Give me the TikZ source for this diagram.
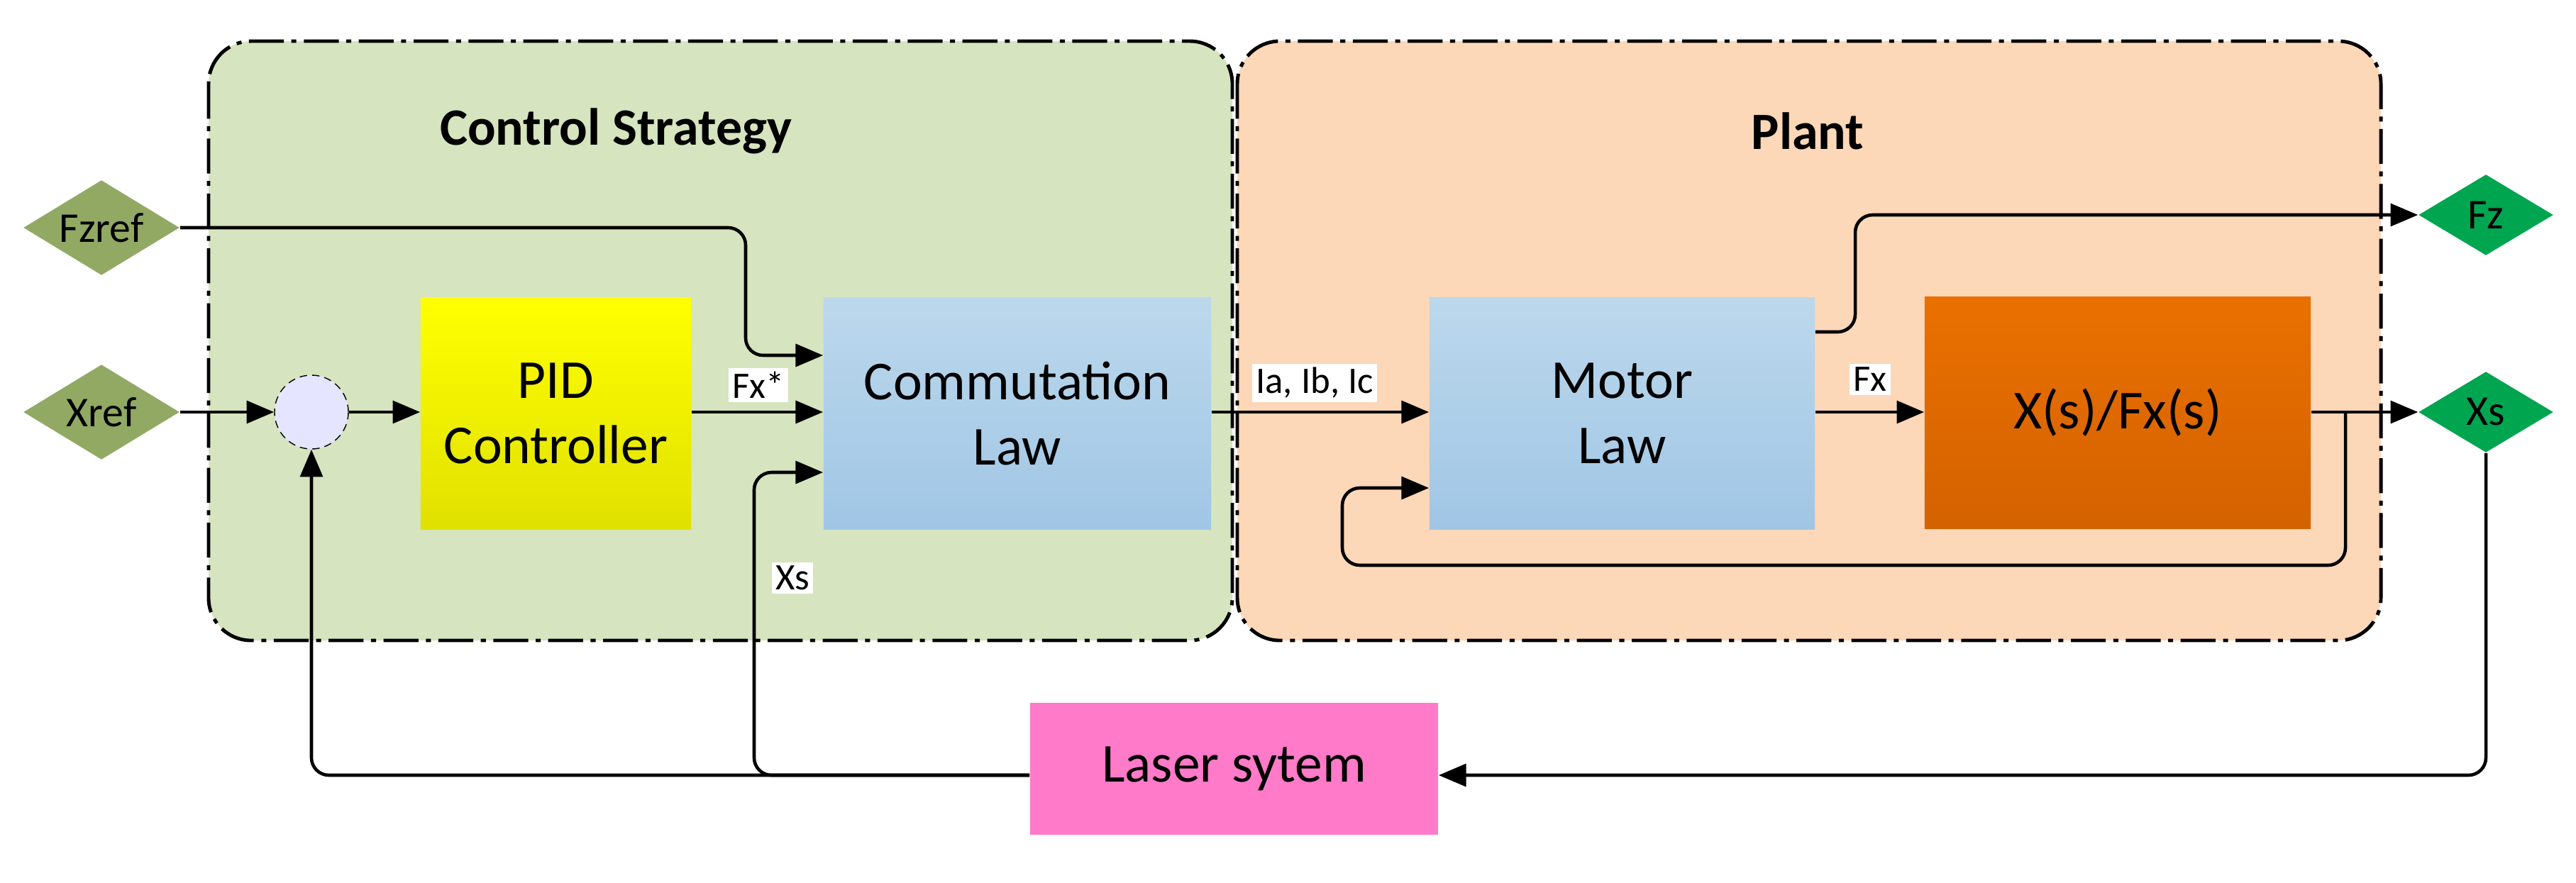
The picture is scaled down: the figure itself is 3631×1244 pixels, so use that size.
\documentclass[tikz,border=0pt]{standalone}
\usepackage{fontspec}
\setmainfont{Carlito}
\usetikzlibrary{arrows.meta,shapes.geometric}
\definecolor{grn}{HTML}{D6E4BF}
\definecolor{org}{HTML}{FCD7B8}
\definecolor{olive}{HTML}{92A964}
\definecolor{dgreen}{HTML}{00A550}
\definecolor{pink}{HTML}{FF7AC8}
\definecolor{lb1}{HTML}{BCD8EC}
\definecolor{lb2}{HTML}{A0C6E5}
\definecolor{or1}{HTML}{EA7000}
\definecolor{or2}{HTML}{D46200}
\begin{document}
\begin{tikzpicture}[x=0.01cm,y=-0.01cm,
  region/.style={draw=black,line width=1.4pt,dash pattern=on 14pt off 3pt on 2pt off 3pt,rounded corners=0.6cm},
  box/.style={font=\fontsize{22}{26}\selectfont,align=center,inner sep=0pt},
  dia/.style={diamond,font=\fontsize{17}{20}\selectfont,inner sep=0pt,aspect=1.65},
  lab/.style={fill=white,font=\fontsize{15}{18}\selectfont,inner sep=1.5pt},
  arr/.style={line width=1.3pt,-{Triangle[length=11pt,width=9pt]},rounded corners=7pt},
  ln/.style={line width=1.3pt,rounded corners=7pt}]
\useasboundingbox (0,0) rectangle (3631,1244);
\draw[region,fill=grn] (294,58) rectangle (1737,903);
\draw[region,fill=org] (1744,58) rectangle (3356,903);
\node[font=\fontsize{21}{25}\selectfont\bfseries] (t1) at (868,185) {Control Strategy};
\node[font=\fontsize{21}{25}\selectfont\bfseries] (t2) at (2548,185) {Plant};
% diamonds
\node[dia,fill=olive,minimum width=2.2cm,minimum height=1.34cm] (fzref) at (143,321) {Fzref};
\node[dia,fill=olive,minimum width=2.2cm,minimum height=1.34cm] (xref) at (143,581) {Xref};
\node[dia,fill=dgreen,minimum width=1.9cm,minimum height=1.14cm] (fz) at (3504,303) {Fz};
\node[dia,fill=dgreen,minimum width=1.9cm,minimum height=1.14cm] (xs) at (3504,581) {Xs};
% sum
\node[circle,draw,densely dashed,fill=blue!10!white,minimum size=1.04cm,inner sep=0pt] (sum) at (439,581) {};
% boxes
\node[box,top color=yellow,bottom color=yellow!88!black,minimum width=3.81cm,minimum height=3.26cm] (pid) at (783.5,583) {PID\\Controller};
\node[box,top color=lb1,bottom color=lb2,minimum width=5.46cm,minimum height=3.26cm] (comm) at (1434,583) {Commutation\\Law};
\node[box,top color=lb1,bottom color=lb2,minimum width=5.43cm,minimum height=3.26cm] (motor) at (2286.5,583) {Motor\\Law};
\node[box,top color=or1,bottom color=or2,minimum width=5.44cm,minimum height=3.26cm] (xfx) at (2985,582) {X(s)/Fx(s)};
\node[box,fill=pink,minimum width=5.75cm,minimum height=1.86cm] (laser) at (1739.5,1084) {Laser sytem};
% coordinates
\coordinate (c1) at (1051,321);
\coordinate (c2) at (1051,501);
\coordinate (c3) at (1063,666);
\coordinate (c4) at (1063,1093);
\coordinate (c5) at (439,1093);
\coordinate (m1) at (2615,468);
\coordinate (m2) at (2615,303);
\coordinate (f1) at (3306,581);
\coordinate (f2) at (3306,797);
\coordinate (f3) at (1892,797);
\coordinate (f4) at (1892,688);
\coordinate (x1) at (3504,1093);
% connectors
\draw[arr] (fzref.east) -- (c1) -- (c2) -- (comm.west |- c2);
\draw[arr] (xref.east) -- (sum.west);
\draw[arr] (sum.east) -- (pid.west |- sum.east);
\draw[arr] (pid.east |- sum.east) -- (comm.west |- sum.east);
\node[lab] (lfx) at (1069,543) {Fx*};
\draw[arr] (laser.west |- c4) -- (c4) -- (c3) -- (comm.west |- c3);
\node[lab] (lxs) at (1117,815) {Xs};
\draw[arr] (laser.west |- c5) -- (c5) -- (sum.south);
\draw[arr] (comm.east |- sum.east) -- (motor.west |- sum.east);
\node[lab] (liabc) at (1853,540) {Ia, Ib, Ic};
\draw[arr] (motor.east |- sum.east) -- (xfx.west |- sum.east);
\node[lab] (lfx2) at (2636,535) {Fx};
\draw[arr] (motor.east |- m1) -- (m1) -- (m2) -- (fz.west);
\draw[arr] (xfx.east |- sum.east) -- (xs.west);
\draw[arr] (f1) -- (f2) -- (f3) -- (f4) -- (motor.west |- f4);
\draw[arr] (xs.south) -- (x1) -- (laser.east |- x1);
\end{tikzpicture}
\end{document}
